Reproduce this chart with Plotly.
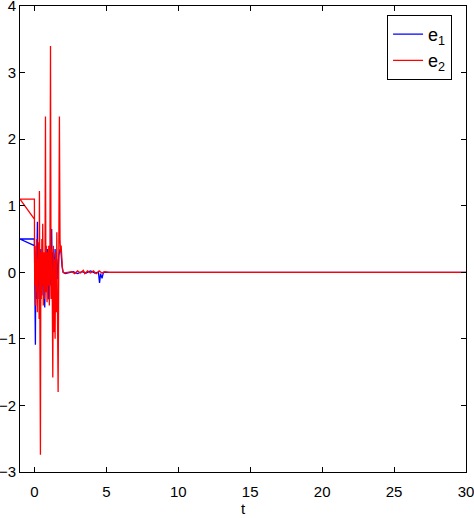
import plotly.graph_objects as go

# error signals e1, e2 (delay history on [-1, 0] first)
t_e1 = [0, -1, 0, 0.03, 0.07, 0.10, 0.14, 0.18, 0.21, 0.24, 0.28, 0.32, 0.36, 0.40,
        0.45, 0.50, 0.55, 0.60, 0.66, 0.72, 0.78, 0.84, 0.90, 0.96, 1.02, 1.08,
        1.14, 1.20, 1.26, 1.32, 1.38, 1.44, 1.50, 1.56, 1.62, 1.70, 1.78, 1.85,
        1.92, 2.0, 2.15, 2.4, 2.7, 3.0, 3.3, 3.6, 3.9, 4.2, 4.45, 4.53, 4.6,
        4.7, 4.8, 5.0, 30]
e1 = [0.40, 0.50, 0.50, -0.30, -1.09, 0.20, -0.40, 0.30, 0.76, -0.20, 0.30, -0.40,
      0.20, -0.30, 0.35, -0.20, 0.30, -0.35, 0.20, -0.53, 0.30, -0.20, 0.35, -0.41,
      0.20, 0.40, -0.20, 0.65, -0.30, 0.30, -0.20, 0.35, -0.25, 0.20, -0.10, 0.25,
      0.35, 0.30, 0.10, 0.0, -0.02, -0.01, 0.01, -0.02, 0.01, -0.01, 0.02, -0.01,
      0.0, -0.16, -0.02, -0.09, 0.0, 0.0, 0.0]

t_e2 = [0, -1, 0, 0.02, 0.05, 0.08, 0.11, 0.14, 0.17, 0.20, 0.23, 0.26, 0.30, 0.33,
        0.35, 0.38, 0.42, 0.45, 0.48, 0.52, 0.55, 0.58, 0.62, 0.66, 0.70, 0.74,
        0.77, 0.80, 0.84, 0.88, 0.92, 0.96, 1.00, 1.04, 1.08, 1.12, 1.16, 1.20,
        1.24, 1.28, 1.32, 1.36, 1.40, 1.44, 1.48, 1.52, 1.56, 1.60, 1.65, 1.70,
        1.74, 1.78, 1.82, 1.86, 1.90, 1.95, 2.0, 2.1, 2.3, 2.6, 2.8, 3.0, 3.2,
        3.4, 3.5, 3.7, 3.9, 4.1, 4.3, 4.5, 4.7, 4.9, 5.2, 30]
e2 = [0.80, 1.10, 1.10, -0.20, 0.30, -0.50, 0.40, -0.30, 0.50, -0.60, 0.20, -0.10,
      0.45, -0.70, 1.22, -0.30, -2.74, 0.30, -0.40, 0.50, -0.20, 0.73, -0.50, 0.30,
      -0.40, 0.20, 2.34, -0.30, 0.40, -0.45, 0.30, -0.20, 0.40, -0.50, 0.20, 3.40,
      -0.40, 0.35, -0.30, -1.58, 0.40, -0.90, 0.20, -1.00, 0.30, -0.60, 0.60, -0.30,
      -1.80, 0.40, 2.34, 0.50, 0.30, 0.40, 0.20, 0.05, 0.0, -0.01, 0.0, 0.01, -0.02,
      0.02, -0.01, 0.03, -0.02, 0.02, -0.01, 0.02, -0.02, 0.02, -0.01, 0.01, 0.0, 0.0]

fig = go.Figure()
fig.add_trace(go.Scatter(x=t_e1, y=e1, mode="lines", name="e<sub>1</sub>",
                         line=dict(color="#0000ff", width=1.3)))
fig.add_trace(go.Scatter(x=t_e2, y=e2, mode="lines", name="e<sub>2</sub>",
                         line=dict(color="#ff0000", width=1.3)))

axis_style = dict(showline=True, linecolor="black", linewidth=1, mirror="ticks",
                  ticks="inside", ticklen=5, tickcolor="black", showgrid=False,
                  zeroline=False, automargin=False, ticklabeloverflow="allow",
                  tickfont=dict(size=15, color="black"))

fig.update_xaxes(range=[-1, 30], tickvals=[0, 5, 10, 15, 20, 25, 30],
                 ticklabelstandoff=6,
                 title=dict(text="t", font=dict(size=15, color="black"), standoff=2),
                 **axis_style)
fig.update_yaxes(range=[-3, 4], tickvals=[-3, -2, -1, 0, 1, 2, 3, 4],
                 ticklabelstandoff=0, **axis_style)

fig.update_layout(
    width=474, height=518,
    margin=dict(l=20, r=8, t=6, b=46),
    paper_bgcolor="white", plot_bgcolor="white",
    font=dict(family="Liberation Sans, Arial, sans-serif", color="black"),
    legend=dict(x=0.823, y=0.981, xanchor="left", yanchor="top",
                bordercolor="black", borderwidth=1, bgcolor="white",
                font=dict(size=18, color="black")),
)

# drop the default page margin so the figure sits at the window's corner
fig.write_html("out.html", config={"displayModeBar": False},
               post_script="document.body.style.margin='0';")
